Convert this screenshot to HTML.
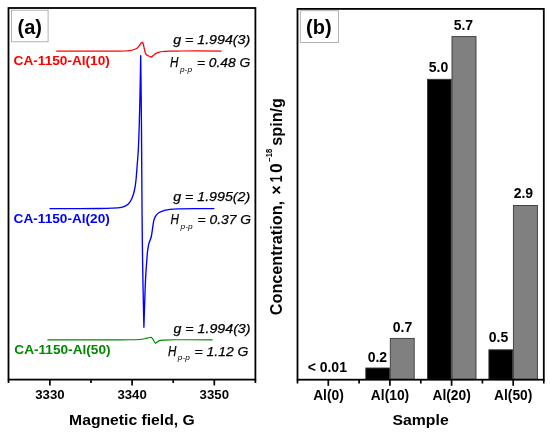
<!DOCTYPE html>
<html><head><meta charset="utf-8"><title>EPR figure</title>
<style>
html,body{margin:0;padding:0;background:#fff;}
svg{display:block;}
text{font-family:"Liberation Sans",Arial,sans-serif;}
.b{font-weight:bold;}
.i{font-style:italic;}
</style></head><body>
<svg width="550" height="434" viewBox="0 0 550 434">
<rect width="550" height="434" fill="#fff"/>
<!-- panel a frame -->
<rect x="8.5" y="8" width="246.9" height="371.6" fill="none" stroke="#000" stroke-width="1.8"/>
<!-- ticks a -->
<g stroke="#000" stroke-width="1.7">
<line x1="8.5" y1="379.6" x2="8.5" y2="383.0"/>
<line x1="49.9" y1="379.6" x2="49.9" y2="385.4"/>
<line x1="91.0" y1="379.6" x2="91.0" y2="383.0"/>
<line x1="132.1" y1="379.6" x2="132.1" y2="385.4"/>
<line x1="173.2" y1="379.6" x2="173.2" y2="383.0"/>
<line x1="214.3" y1="379.6" x2="214.3" y2="385.4"/>
<line x1="255.4" y1="379.6" x2="255.4" y2="383.0"/>
</g>
<rect x="11.5" y="10.2" width="36.6" height="31.6" fill="#fff" stroke="#aaa" stroke-width="0.9"/>
<text class="b" x="29.8" y="34" font-size="20" text-anchor="middle">(a)</text>
<path d="M56.20,51.00 C56.20,51.00 92.07,51.00 110.00,51.00 C115.00,51.00 120.00,51.10 125.00,51.00 C126.64,50.97 128.29,50.87 129.90,50.60 C131.29,50.37 132.68,49.98 134.00,49.50 C135.14,49.08 136.36,48.64 137.30,47.90 C138.26,47.14 138.92,45.98 139.70,45.00 C140.29,44.25 140.76,43.37 141.40,42.70 C141.59,42.50 142.00,42.28 142.20,42.40 C142.60,42.64 143.02,43.27 143.20,43.80 C143.69,45.23 143.85,46.80 144.20,48.30 C144.55,49.80 144.80,51.35 145.30,52.80 C145.54,53.49 145.89,54.22 146.40,54.70 C147.02,55.28 147.92,55.59 148.70,56.00 C149.57,56.46 151.35,57.30 151.35,57.30 C151.35,57.30 152.56,56.14 153.20,55.60 C154.01,54.91 154.79,54.14 155.70,53.60 C156.59,53.07 157.60,52.70 158.60,52.40 C159.90,52.00 161.25,51.65 162.60,51.50 C165.05,51.22 167.53,51.17 170.00,51.10 C173.33,51.00 176.67,51.01 180.00,51.00 C193.87,50.97 221.60,51.00 221.60,51.00" fill="none" stroke="#f00" stroke-width="1.25" stroke-linejoin="round"/>
<path d="M49.50,208.60 C49.50,208.60 83.17,208.61 100.00,208.50 C104.00,208.47 108.01,208.42 112.00,208.20 C115.17,208.02 118.39,207.86 121.50,207.30 C123.06,207.02 124.66,206.50 126.00,205.70 C127.39,204.87 128.75,203.72 129.70,202.40 C130.98,200.62 131.92,198.48 132.70,196.40 C133.59,194.02 134.20,191.50 134.70,189.00 C135.30,186.03 135.69,183.01 136.00,180.00 C136.52,175.01 136.82,170.00 137.20,165.00 C137.58,160.00 138.04,155.01 138.30,150.00 C138.70,142.34 138.96,134.67 139.20,127.00 C139.53,116.34 139.78,105.67 140.00,95.00 C140.28,81.87 140.70,55.60 140.70,55.60 C140.70,55.60 140.98,78.53 141.10,90.00 C141.24,103.33 141.39,116.67 141.50,130.00 C141.66,150.00 141.75,170.00 141.90,190.00 C142.02,206.67 142.10,223.33 142.30,240.00 C142.50,256.67 142.79,273.33 143.10,290.00 C143.33,302.40 143.90,327.20 143.90,327.20 C143.90,327.20 144.29,314.40 144.50,308.00 C144.69,302.00 144.87,296.00 145.10,290.00 C145.30,284.87 145.51,279.73 145.80,274.60 C146.01,270.73 146.32,266.87 146.60,263.00 C146.88,259.17 147.10,255.32 147.50,251.50 C147.70,249.59 148.05,247.69 148.40,245.80 C148.61,244.66 148.86,243.51 149.20,242.40 C149.46,241.57 149.91,240.82 150.20,240.00 C150.61,238.85 151.05,237.70 151.30,236.50 C151.82,233.96 152.09,231.37 152.50,228.80 C152.93,226.10 153.16,223.34 153.80,220.70 C154.19,219.11 154.74,217.47 155.60,216.10 C156.41,214.80 157.52,213.51 158.80,212.70 C160.52,211.61 162.61,210.99 164.60,210.40 C166.35,209.89 168.18,209.58 170.00,209.40 C173.32,209.08 176.66,209.01 180.00,208.90 C185.00,208.74 190.00,208.64 195.00,208.60 C201.47,208.54 214.40,208.60 214.40,208.60" fill="none" stroke="#00f" stroke-width="1.35" stroke-linejoin="round"/>
<path d="M47.40,339.80 C47.40,339.80 89.13,339.81 110.00,339.80 C116.67,339.80 123.33,339.82 130.00,339.75 C133.00,339.72 136.01,339.71 139.00,339.50 C140.91,339.36 142.82,339.05 144.70,338.70 C146.08,338.45 147.42,337.99 148.80,337.70 C149.66,337.52 151.40,337.30 151.40,337.30 C151.40,337.30 152.47,338.45 152.90,339.10 C153.51,340.02 153.92,341.06 154.50,342.00 C154.79,342.46 155.50,343.30 155.50,343.30 C155.50,343.30 156.45,342.37 157.00,342.00 C157.79,341.47 158.61,340.90 159.50,340.60 C160.51,340.26 161.62,340.16 162.70,340.10 C166.79,339.89 170.90,339.82 175.00,339.80 C187.53,339.72 212.60,339.80 212.60,339.80" fill="none" stroke="#080" stroke-width="1.15" stroke-linejoin="round"/>
<text class="b" x="13.6" y="64.9" font-size="13.7" fill="#f00" textLength="96.2" lengthAdjust="spacingAndGlyphs">CA-1150-Al(10)</text>
<text class="b" x="13.6" y="223.1" font-size="13.7" fill="#00f" textLength="96.2" lengthAdjust="spacingAndGlyphs">CA-1150-Al(20)</text>
<text class="b" x="14.3" y="354.3" font-size="13.7" fill="#080" textLength="96.2" lengthAdjust="spacingAndGlyphs">CA-1150-Al(50)</text>
<g class="i" font-size="13.2" fill="#000" stroke="#000" stroke-width="0.25">
<text x="173.2" y="44.4" textLength="77" lengthAdjust="spacingAndGlyphs">g = 1.994(3)</text>
<text x="170.0" y="67.3" font-size="14.5" textLength="8.4" lengthAdjust="spacingAndGlyphs">H</text><text x="180.0" y="72.1" font-size="7.6" stroke="none" textLength="12" lengthAdjust="spacingAndGlyphs">p-p</text><text x="196.9" y="67.3" textLength="53.5" lengthAdjust="spacingAndGlyphs">= 0.48 G</text>
<text x="173.2" y="200.9" textLength="77" lengthAdjust="spacingAndGlyphs">g = 1.995(2)</text>
<text x="170.6" y="224.3" font-size="14.5" textLength="8.4" lengthAdjust="spacingAndGlyphs">H</text><text x="180.6" y="229.1" font-size="7.6" stroke="none" textLength="12" lengthAdjust="spacingAndGlyphs">p-p</text><text x="197.5" y="224.3" textLength="53.5" lengthAdjust="spacingAndGlyphs">= 0.37 G</text>
<text x="173.5" y="332.5" textLength="77" lengthAdjust="spacingAndGlyphs">g = 1.994(3)</text>
<text x="168.0" y="355.5" font-size="14.5" textLength="8.4" lengthAdjust="spacingAndGlyphs">H</text><text x="177.8" y="360.3" font-size="7.6" stroke="none" textLength="12" lengthAdjust="spacingAndGlyphs">p-p</text><text x="194.5" y="355.5" textLength="54" lengthAdjust="spacingAndGlyphs">= 1.12 G</text>
</g>
<g class="b" font-size="13.7" text-anchor="middle" textLength="29.4" lengthAdjust="spacingAndGlyphs">
<text x="49.9" y="398.9" textLength="29.4" lengthAdjust="spacingAndGlyphs">3330</text>
<text x="132.1" y="398.9" textLength="29.4" lengthAdjust="spacingAndGlyphs">3340</text>
<text x="214.3" y="398.9" textLength="29.4" lengthAdjust="spacingAndGlyphs">3350</text>
</g>
<text class="b" x="69.1" y="424.8" font-size="15.3" textLength="125.6" lengthAdjust="spacingAndGlyphs">Magnetic field, G</text>

<!-- panel b -->
<g stroke="#383838" stroke-width="0.9">
<rect x="365.80" y="368.00" width="23.70" height="11.30" fill="#000"/>
<rect x="390.30" y="338.40" width="23.90" height="40.90" fill="#808080"/>
<rect x="427.50" y="79.30" width="23.70" height="300.00" fill="#000"/>
<rect x="452.00" y="36.60" width="24.00" height="342.70" fill="#808080"/>
<rect x="488.90" y="349.80" width="23.70" height="29.50" fill="#000"/>
<rect x="513.40" y="205.50" width="24.00" height="173.80" fill="#808080"/>
</g>
<rect x="297.5" y="8.9" width="246.3" height="370.8" fill="none" stroke="#000" stroke-width="1.8"/>
<g stroke="#000" stroke-width="1.7">
<line x1="297.5" y1="379.7" x2="297.5" y2="383.5"/>
<line x1="328.3" y1="379.7" x2="328.3" y2="385.8"/>
<line x1="359.1" y1="379.7" x2="359.1" y2="383.5"/>
<line x1="389.9" y1="379.7" x2="389.9" y2="385.8"/>
<line x1="420.8" y1="379.7" x2="420.8" y2="383.5"/>
<line x1="451.6" y1="379.7" x2="451.6" y2="385.8"/>
<line x1="482.4" y1="379.7" x2="482.4" y2="383.5"/>
<line x1="513.2" y1="379.7" x2="513.2" y2="385.8"/>
<line x1="543.8" y1="379.7" x2="543.8" y2="383.5"/>
</g>
<rect x="300.3" y="10.7" width="38.2" height="31.8" fill="#fff" stroke="#aaa" stroke-width="0.9"/>
<text class="b" x="318.8" y="34" font-size="20" text-anchor="middle">(b)</text>
<g class="b" font-size="14" text-anchor="middle">
<text x="327.3" y="372.3">&lt; 0.01</text>
<text x="377.4" y="362">0.2</text>
<text x="402.5" y="332.2">0.7</text>
<text x="438.5" y="72.2">5.0</text>
<text x="463.4" y="29.5">5.7</text>
<text x="498.5" y="341.8">0.5</text>
<text x="523.4" y="198.4">2.9</text>
</g>
<g class="b" font-size="13.8" text-anchor="middle">
<text x="328.5" y="399.5">Al(0)</text>
<text x="390" y="399.5">Al(10)</text>
<text x="451.6" y="399.5">Al(20)</text>
<text x="513.2" y="399.5">Al(50)</text>
</g>
<text class="b" x="392.5" y="424.7" font-size="15.1" textLength="56.2" lengthAdjust="spacingAndGlyphs">Sample</text>
<g class="b" transform="translate(282,314.6) rotate(-90)" font-size="15.7"><text transform="translate(-0.54,0) scale(1.031,1)">Concentration,</text><text transform="translate(119.83,0) scale(1.030,1)">×</text><text transform="translate(132.30,0) scale(0.786,1)">1</text><text transform="translate(141.70,0) scale(1.107,1)">0</text><text transform="translate(152.90,-10.3) scale(0.93,1)" font-size="8.2">−18</text><text transform="translate(168.85,0) scale(1.034,1)">spin/g</text></g>
</svg>
</body></html>
